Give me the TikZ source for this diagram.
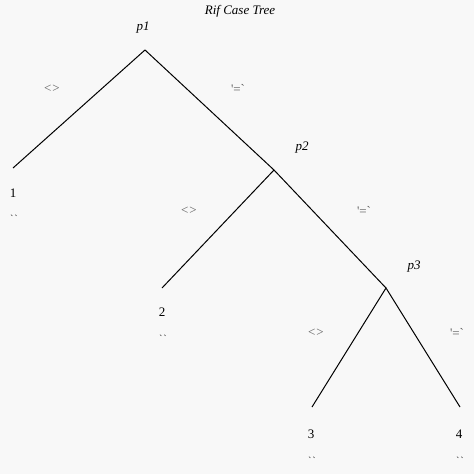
\documentclass[tikz,border=0pt]{standalone}
\usepackage{fontspec}
\setmainfont{Liberation Serif}
\definecolor{bgpaper}{HTML}{F8F8F8}
\definecolor{edgelabel}{HTML}{606060}

\begin{document}
\begin{tikzpicture}[x=1pt,y=-1pt,font=\fontsize{13}{15}\selectfont]
\fill[color=bgpaper] (0,0) rectangle (474,474);
\useasboundingbox (0,0) rectangle (474,474);

\node (title) at (240,11) {\itshape Rif Case Tree};

\coordinate (p1) at (145,50);
\coordinate (p2) at (274,170);
\coordinate (p3) at (386,288);
\coordinate (leaf1) at (13,168);
\coordinate (leaf2) at (162,288);
\coordinate (leaf3) at (312,407);
\coordinate (leaf4) at (460,407);

\draw[line width=1pt] (leaf1) -- (p1) -- (p2);
\draw[line width=1pt] (leaf2) -- (p2) -- (p3);
\draw[line width=1pt] (leaf3) -- (p3) -- (leaf4);

\node (p1lab) at (143,28) {\itshape p1};
\node (p2lab) at (302,148) {\itshape p2};
\node (p3lab) at (414,267) {\itshape p3};

\node[color=edgelabel] (ne1) at (52,89) {<\kern1pt>};
\node[color=edgelabel] (eq1) at (238,89) {\textquotesingle=\textasciigrave};
\node[color=edgelabel] (ne2) at (189,211) {<\kern1pt>};
\node[color=edgelabel] (eq2) at (364,211) {\textquotesingle=\textasciigrave};
\node[color=edgelabel] (ne3) at (316,333) {<\kern1pt>};
\node[color=edgelabel] (eq3) at (457,333) {\textquotesingle=\textasciigrave};

\node (num1) at (13,193) {1};
\node (num2) at (162,312) {2};
\node (num3) at (311,434) {3};
\node (num4) at (459,434) {4};

\node[font=\small] (str1) at (14,218) {\textasciigrave\,\textasciigrave};
\node[font=\small] (str2) at (163,338) {\textasciigrave\,\textasciigrave};
\node[font=\small] (str3) at (312,460) {\textasciigrave\,\textasciigrave};
\node[font=\small] (str4) at (460,460) {\textasciigrave\,\textasciigrave};
\end{tikzpicture}
\end{document}
